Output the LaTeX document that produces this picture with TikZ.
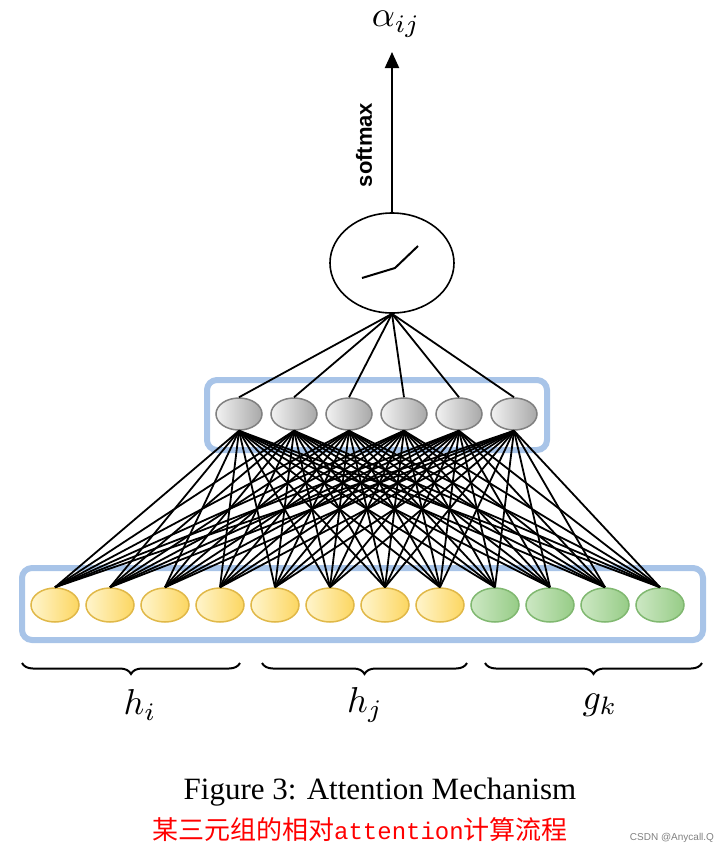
\documentclass[tikz,border=0pt]{standalone}
\usepackage{fontspec}
\setmainfont{Liberation Serif}
\newfontfamily\cjk{Noto Sans CJK SC}
\newfontfamily\sansb{Liberation Sans}
\newfontfamily\monof{Liberation Mono}
\usetikzlibrary{decorations.pathreplacing,arrows.meta,shapes.geometric}
\begin{document}
\begin{tikzpicture}[x=1pt,y=-1pt,
  box/.style={draw={rgb,255:red,168;green,196;blue,232}, line width=6pt, rounded corners=10pt},
  ynode/.style={ellipse,minimum width=48pt,minimum height=34pt,inner sep=0pt,draw={rgb,255:red,224;green,184;blue,72},line width=1.5pt,left color={rgb,255:red,255;green,245;blue,205},right color={rgb,255:red,252;green,214;blue,96}},
  gnode/.style={ellipse,minimum width=48pt,minimum height=34pt,inner sep=0pt,draw={rgb,255:red,128;green,184;blue,112},line width=1.5pt,left color={rgb,255:red,205;green,232;blue,196},right color={rgb,255:red,150;green,204;blue,134}},
  mnode/.style={ellipse,minimum width=46pt,minimum height=32pt,inner sep=0pt,draw={rgb,255:red,128;green,128;blue,128},line width=1.5pt,left color={rgb,255:red,242;green,242;blue,242},right color={rgb,255:red,168;green,168;blue,168}},
  conn/.style={line width=1.8pt},
  br/.style={decorate,decoration={brace,mirror,amplitude=11pt},line width=2pt},
  mlab/.style={scale=3.6}]
\useasboundingbox (0,0) rectangle (718,852);
\draw[box] (22,568) rectangle (703,640);
\draw[box] (207,380) rectangle (547,450);
\foreach \i in {1,...,8} \node[ynode] (b\i) at ({55*\i},605) {};
\foreach \i in {9,...,12} \node[gnode] (b\i) at ({55*\i},605) {};
\foreach \j in {1,...,6} \node[mnode] (m\j) at ({184+55*\j},414) {};
\node[ellipse,draw,line width=1.6pt,minimum width=124pt,minimum height=100pt,inner sep=0pt] (c) at (392,263) {};
\draw[line width=2pt] (362,278) -- (395,268) -- (418,246);
\foreach \i in {1,...,12} \foreach \j in {1,...,6} \draw[conn] (b\i.north) -- (m\j.south);
\foreach \j in {1,...,6} \draw[conn] (m\j.north) -- (c.south);
\coordinate (top) at (392,52);
\draw[line width=2pt,-{Triangle[length=16pt,width=14pt]}] (c.north) -- (top);
\node[rotate=90,font=\sansb\bfseries\fontsize{22}{24}\selectfont] (sm) at (364,145) {softmax};
\node[mlab] (al) at (396,24) {$\alpha_{ij}$};
\coordinate (a1) at (22,663); \coordinate (a2) at (240,663);
\coordinate (a3) at (262,663); \coordinate (a4) at (467,663);
\coordinate (a5) at (485,663); \coordinate (a6) at (702,663);
\draw[br] (a1) -- (a2);
\draw[br] (a3) -- (a4);
\draw[br] (a5) -- (a6);
\node[mlab] (hi) at (140,705) {$h_i$};
\node[mlab] (hj) at (365,705) {$h_j$};
\node[mlab] (gk) at (600,705) {$g_k$};
\node[font=\fontsize{31}{34}\selectfont] (cap) at (380,792) {Figure 3: Attention Mechanism};
\node[text=red,font=\fontsize{26}{30}\selectfont] (cn) at (360,830) {{\cjk 某三元组的相对}{\monof\fontsize{24}{28}\selectfont attention}{\cjk 计算流程}};
\node[text=gray,font=\sansb\fontsize{10}{12}\selectfont] (wm) at (672,838) {CSDN @Anycall.Q};
\end{tikzpicture}
\end{document}
